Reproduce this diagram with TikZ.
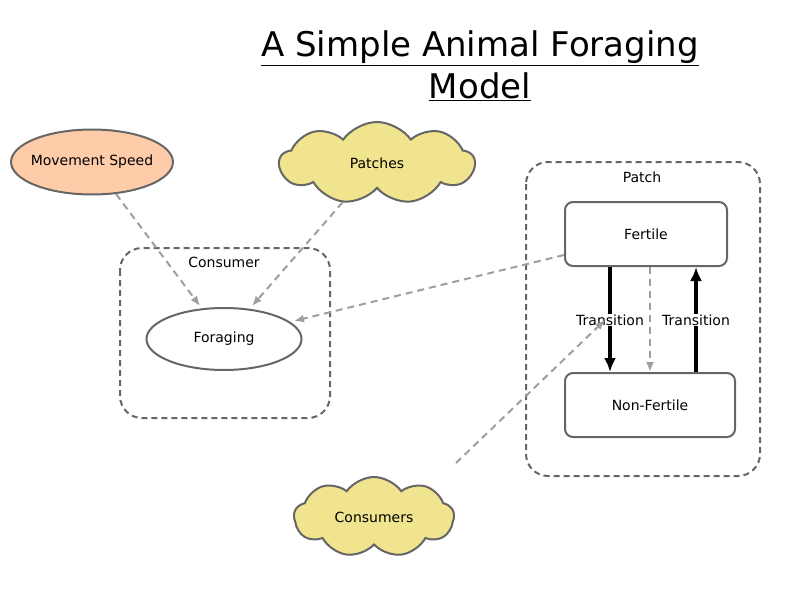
\documentclass[tikz,border=0pt]{standalone}
\usepackage{fontspec}
\setmainfont{DejaVu Sans}
\usetikzlibrary{arrows.meta}
\usetikzlibrary{positioning}
\usetikzlibrary{shapes.geometric,shapes.symbols}
\definecolor{peach}{HTML}{FFCCAA}
\definecolor{khaki}{HTML}{F0E48E}
\definecolor{edge}{HTML}{666666}
\begin{document}
\begin{tikzpicture}[x=1pt, y=-1pt,
	oval/.style={
	draw=edge,
	ellipse,
	line width=2pt,
	inner sep=-4pt,
	font=\fontsize{14}{17}\selectfont},
	puff/.style={
	draw=edge,
	cloud,
	cloud puffs=9,
	cloud puff arc=110,
	aspect=2.4,
	fill=khaki,
	line width=2pt,
	inner sep=0pt,
	font=\fontsize{14}{17}\selectfont},
	box/.style={
	draw=edge,
	rectangle,
	rounded corners=8pt,
	fill=white,
	line width=2pt,
	font=\fontsize{14}{17}\selectfont},
	frame/.style={
	draw=edge,
	dashed,
	dash pattern=on 6pt off 4pt,
	rounded corners=22pt,
	line width=2pt},
	link/.style={
	draw=black!38,
	dash pattern=on 7pt off 5pt,
	line width=2pt,
	-{Latex[length=10pt, width=8pt]}
	},
	flow/.style={
	line width=4pt,
	-{Latex[length=14pt, width=12pt]}
	}]

	\useasboundingbox (0,0) rectangle (800,591);

	% Title
	\node [font=\fontsize{34}{42}\selectfont, align=center] at (480,66) (title)
	  {\underline{A Simple Animal Foraging}\\\underline{Model}};

	% Containers
	\draw[frame] (120,248) rectangle (330,418);
	\node [font=\fontsize{14}{16}\selectfont] at (224,262) (consumerlbl) {Consumer};
	\draw[frame] (526,162) rectangle (760,476);
	\node [font=\fontsize{14}{16}\selectfont] at (642,177) (patchlbl) {Patch};

	% Nodes
	\node [oval, fill=peach, minimum width=155, minimum height=65] at (92,162) (speed) {Movement Speed};
	\node [puff, minimum width=195, minimum height=82] at (377,163) (patches) {Patches};
	\node [puff, minimum width=160, minimum height=80] at (374,517) (consumers) {Consumers};
	\node [oval, fill=white, minimum width=155, minimum height=62] at (224,339) (foraging) {Foraging};
	\node [box, minimum width=162, minimum height=64] at (646,234) (fertile) {Fertile};
	\node [box, minimum width=170, minimum height=64] at (650,405) (nonfertile) {Non-Fertile};

	% Transitions
	\draw[flow] (fertile.south -| 610,0) -- (nonfertile.north -| 610,0);
	\draw[flow] (nonfertile.north -| 696,0) -- (fertile.south -| 696,0);
	\draw[link] (fertile.south -| 650,0) -- (nonfertile.north -| 650,0);
	\node [fill=white, inner sep=1pt, font=\fontsize{14}{17}\selectfont] at (610,320) (trdown) {Transition};
	\node [fill=white, inner sep=1pt, font=\fontsize{14}{17}\selectfont] at (696,320) (trup) {Transition};

	% Influences
	\draw[link] (speed) -- (200,306);
	\draw[link] (patches) -- (252,306);
	\draw[link] (fertile.west |- 0,255) -- (294,321);
	\draw[link] (456,463) coordinate (cstart) -- (605,320) coordinate (cend);

\end{tikzpicture}
\end{document}
